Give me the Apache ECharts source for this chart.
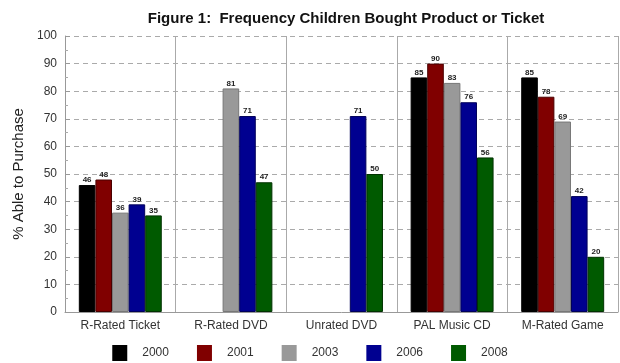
<!DOCTYPE html>
<html><head><meta charset="utf-8">
<script src="https://cdn.jsdelivr.net/npm/echarts@6/dist/echarts.min.js"></script>
<style>html,body{margin:0;padding:0;background:#fff}#c{width:620px;height:363px}</style>
</head><body><div id="c"></div>
<script>
var categories = ['R-Rated Ticket', 'R-Rated DVD', 'Unrated DVD', 'PAL Music CD', 'M-Rated Game'];
var years = ['2000', '2001', '2003', '2006', '2008'];
var v2000 = [46, null, null, 85, 85];
var v2001 = [48, null, null, 90, 78];
var v2003 = [36, 81, null, 83, 69];
var v2006 = [39, 71, 71, 76, 42];
var v2008 = [35, 47, 50, 56, 20];
var yTicks = [0, 10, 20, 30, 40, 50, 60, 70, 80, 90, 100];
var colors = ['#000000', '#800000', '#999999', '#000090', '#005a00'];
var borders = ['#000000', '#4a0000', '#777777', '#00005a', '#003300'];
var values = [v2000, v2001, v2003, v2006, v2008];

var chart = echarts.init(document.getElementById('c'));
chart.setOption({
  animation: false,
  title: {
    text: 'Figure 1:  Frequency Children Bought Product or Ticket',
    left: 341, top: 6, textAlign: 'center',
    textStyle: { fontFamily: 'Liberation Sans, Arial', fontSize: 15, fontWeight: 'bold', color: '#111' }
  },
  legend: {
    top: 340, left: 'center',
    itemWidth: 15, itemHeight: 16, itemGap: 28,
    icon: 'rect',
    itemStyle: { borderWidth: 0 },
    textStyle: { fontFamily: 'Liberation Sans, Arial', fontSize: 12, color: '#333', padding: [0, 0, 0, 10] },
    data: years
  },
  grid: { left: 65, right: 2, top: 36, bottom: 51 },
  xAxis: {
    type: 'category', data: categories,
    axisLine: { lineStyle: { color: '#999' } },
    axisTick: { show: false },
    axisLabel: { fontFamily: 'Liberation Sans, Arial', fontSize: 12, color: '#333', margin: 8 },
    splitLine: { show: true, lineStyle: { color: '#aaa', width: 1 } }
  },
  yAxis: {
    type: 'value', min: 0, max: 100, interval: 10,
    name: '% Able to Purchase', nameLocation: 'middle', nameGap: 34,
    nameTextStyle: { fontFamily: 'Liberation Sans, Arial', fontSize: 15, color: '#222' },
    axisLine: { show: true, lineStyle: { color: '#999' } },
    axisTick: { show: true, inside: true, length: 5, lineStyle: { color: '#999' } },
    minorTick: { show: true, splitNumber: 2, length: 3, lineStyle: { color: '#aaa' } },
    axisLabel: { fontFamily: 'Liberation Sans, Arial', fontSize: 12, color: '#333', margin: 8,
      formatter: function (v) { return yTicks.indexOf(v) >= 0 ? String(v) : ''; } },
    splitLine: { show: true, lineStyle: { color: '#aaa', type: [5, 4], width: 1 } }
  },
  series: years.map(function (y, i) {
    return {
      name: y, type: 'bar', data: values[i],
      barGap: '0%', barCategoryGap: '25%',
      itemStyle: { color: colors[i], borderColor: borders[i], borderWidth: 1 },
      label: { show: true, position: 'top', distance: 1,
        fontFamily: 'Liberation Sans, Arial', fontSize: 8, fontWeight: 'bold', color: '#222' }
    };
  })
});
</script></body></html>
